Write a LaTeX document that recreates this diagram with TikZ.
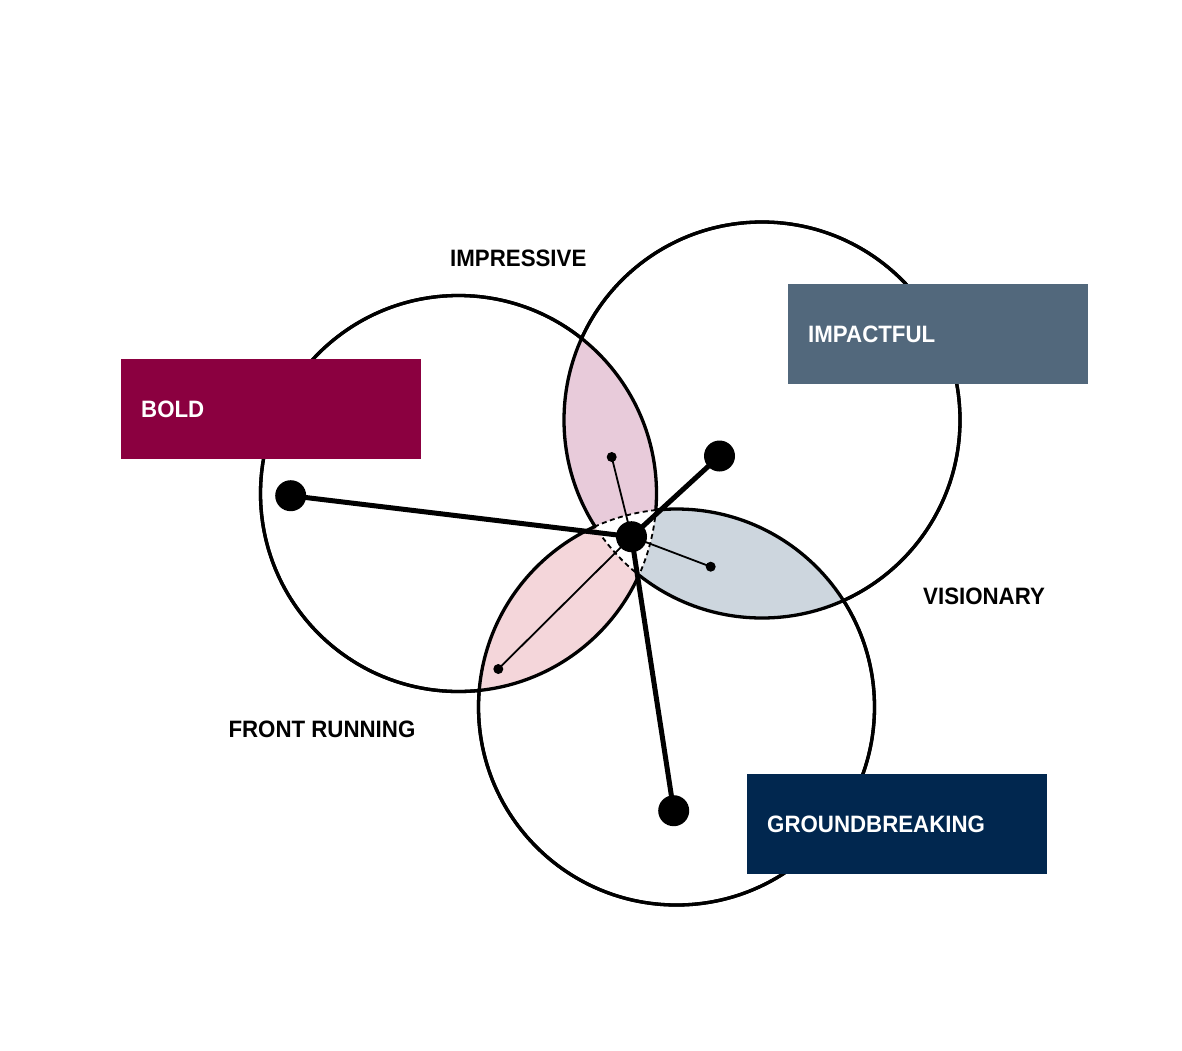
\documentclass[tikz,border=0pt]{standalone}
\usepackage{fontspec}
\setmainfont{Liberation Sans}[FakeStretch=0.94]
\definecolor{boldc}{HTML}{8B0040}
\definecolor{impc}{HTML}{52687C}
\definecolor{grndc}{HTML}{01274F}
\definecolor{lensA}{HTML}{E8CBDA}
\definecolor{lensB}{HTML}{CDD6DE}
\definecolor{lensC}{HTML}{F4D6DA}
\begin{document}
\begin{tikzpicture}[x=1pt,y=-1pt,
  circ/.style={line width=3.3pt, draw=black},
  dashcirc/.style={line width=1.8pt, draw=black, dash pattern=on 5pt off 3.5pt},
  bigdot/.style={circle, fill=black, minimum size=31pt, inner sep=0pt},
  smalldot/.style={circle, fill=black, minimum size=10pt, inner sep=0pt},
  thickln/.style={line width=5pt},
  thinln/.style={line width=1.8pt},
  lbl/.style={font=\fontsize{23.7}{28}\selectfont\bfseries, inner sep=0pt, anchor=base west, text=black},
  box/.style={rectangle, anchor=north west, text width=260pt, inner xsep=20pt, inner ysep=0pt,
    minimum height=100pt, align=left, text=white, font=\fontsize{23.7}{28}\selectfont\bfseries}
]
\useasboundingbox (0,0) rectangle (1182,1050);
\fill[white] (0,0) rectangle (1182,1050);
\def\CA{(458.5,493.5) circle[radius=198pt]}
\def\CB{(762,420) circle[radius=198pt]}
\def\CC{(676.5,707) circle[radius=198pt]}
\def\BIG{(-50,-50) rectangle (1250,1120)}
% lens fills
\begin{scope}\clip \CA; \fill[lensA] \CB; \end{scope}
\begin{scope}\clip \CB; \fill[lensB] \CC; \end{scope}
\begin{scope}\clip \CA; \fill[lensC] \CC; \end{scope}
\begin{scope}\clip \CA; \clip \CB; \fill[white] \CC; \end{scope}
% solid circles except inside triple region
\begin{scope}[even odd rule]\clip \BIG \CB; \draw[circ] \CA; \end{scope}
\begin{scope}[even odd rule]\clip \BIG \CC; \draw[circ] \CA; \end{scope}
\begin{scope}[even odd rule]\clip \BIG \CA; \draw[circ] \CB; \end{scope}
\begin{scope}[even odd rule]\clip \BIG \CC; \draw[circ] \CB; \end{scope}
\begin{scope}[even odd rule]\clip \BIG \CA; \draw[circ] \CC; \end{scope}
\begin{scope}[even odd rule]\clip \BIG \CB; \draw[circ] \CC; \end{scope}
% dashed triple-region boundary
\begin{scope}\clip \CB; \clip \CC; \draw[dashcirc] \CA; \end{scope}
\begin{scope}\clip \CA; \clip \CC; \draw[dashcirc] \CB; \end{scope}
\begin{scope}\clip \CA; \clip \CB; \draw[dashcirc] \CC; \end{scope}
% dots
\node[bigdot] (ctr) at (631.5,536.7) {};
\node[bigdot] (dl) at (290.7,495.7) {};
\node[bigdot] (dtr) at (719.5,456) {};
\node[bigdot] (db) at (673.7,810.7) {};
\node[smalldot] (sA) at (611.7,457) {};
\node[smalldot] (sB) at (710.7,566.7) {};
\node[smalldot] (sC) at (498.3,669) {};
\draw[thickln] (ctr.center) -- (dl.center);
\draw[thickln] (ctr.center) -- (dtr.center);
\draw[thickln] (ctr.center) -- (db.center);
\draw[thinln] (ctr.center) -- (sA.center);
\draw[thinln] (ctr.center) -- (sB.center);
\draw[thinln] (ctr.center) -- (sC.center);
% boxes
\node[box, fill=boldc] (bold) at (121,359) {BOLD};
\node[box, fill=impc] (impact) at (788,284) {IMPACTFUL};
\node[box, fill=grndc] (ground) at (747,774) {GROUNDBREAKING};
% labels
\node[lbl] (impr) at (450,266) {IMPRESSIVE};
\node[lbl] (vis) at (923,604) {VISIONARY};
\node[lbl] (front) at (228.3,737) {FRONT RUNNING};
\end{tikzpicture}
\end{document}
